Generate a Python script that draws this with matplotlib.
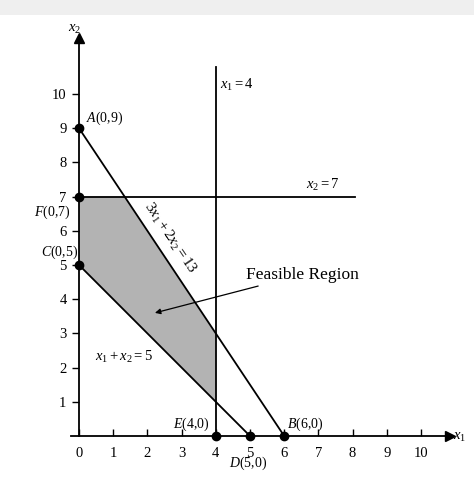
import matplotlib.pyplot as plt
from matplotlib.patches import Polygon, Rectangle

plt.rcParams['font.family'] = ['Liberation Serif', 'DejaVu Serif']
plt.rcParams['mathtext.fontset'] = 'custom'
plt.rcParams['mathtext.rm'] = 'Liberation Serif'
plt.rcParams['mathtext.it'] = 'Liberation Serif:italic'

# corner points of the feasible region
region_x = [0, 4 / 3, 4, 4, 0]
region_y = [7, 7, 3, 1, 5]

# labelled points
pt_names = ['A(0,9)', 'F(0,7)', 'C(0,5)', 'E(4,0)', 'D(5,0)', 'B(6,0)']
pt_x = [0, 0, 0, 4, 5, 6]
pt_y = [9, 7, 5, 0, 0, 0]

# constraint lines
line_a_x = [0, 6]
line_a_y = [9, 0]
line_c_x = [0, 5]
line_c_y = [5, 0]
x1_eq4_x = [4, 4]
x1_eq4_y = [0, 10.8]
x2_eq7_x = [0, 8.07]
x2_eq7_y = [7, 7]

xticks = [0, 1, 2, 3, 4, 5, 6, 7, 8, 9, 10]
yticks = [1, 2, 3, 4, 5, 6, 7, 8, 9, 10]

fig = plt.figure(figsize=(4.74, 4.83), dpi=100)
ax = fig.add_axes([0, 0, 1, 1])
ax.set_xlim(-79 / 34.2, (474 - 79) / 34.2)
ax.set_ylim(-(483 - 436) / 34.2, 436 / 34.2)

fig.patches.append(Rectangle((0, 1 - 15 / 483), 1, 15 / 483, transform=fig.transFigure,
                             facecolor='#efefef', edgecolor='none'))

ax.add_patch(Polygon(list(zip(region_x, region_y)), closed=True, facecolor='#b3b3b3',
                     edgecolor='none'))

lw = 1.3
ax.plot(line_a_x, line_a_y, color='black', lw=lw)
ax.plot(line_c_x, line_c_y, color='black', lw=lw)
ax.plot(x1_eq4_x, x1_eq4_y, color='black', lw=lw)
ax.plot(x2_eq7_x, x2_eq7_y, color='black', lw=lw)

for s in ['top', 'right']:
    ax.spines[s].set_visible(False)
ax.spines['left'].set_position(('data', 0))
ax.spines['bottom'].set_position(('data', 0))
ax.spines['left'].set_bounds(0, 11.5)
ax.spines['bottom'].set_bounds(-0.23, 10.7)
ax.spines['left'].set_linewidth(lw)
ax.spines['bottom'].set_linewidth(lw)
ax.plot([10.85], [0], marker='>', color='black', markersize=7, clip_on=False)
ax.plot([0], [11.65], marker='^', color='black', markersize=7, clip_on=False)

ax.set_xticks(xticks)
ax.set_xticklabels([str(t) for t in xticks])
ax.set_yticks(yticks)
ax.set_yticklabels([str(t) for t in yticks])
ax.tick_params(axis='x', direction='in', length=5, width=1, pad=8, labelsize=10.5)
ax.tick_params(axis='y', direction='out', length=5, width=1, pad=4, labelsize=10.5)

ax.scatter(pt_x, pt_y, s=36, color='black', zorder=5, clip_on=False)

fs = 10
ax.text(0.2, 9.3, r'$A$(0,9)', fontsize=fs, ha='left', va='center')
ax.text(-0.26, 6.55, r'$F$(0,7)', fontsize=fs, ha='right', va='center')
ax.text(-0.03, 5.38, r'$C$(0,5)', fontsize=fs, ha='right', va='center')
ax.text(3.83, 0.35, r'$E$(4,0)', fontsize=fs, ha='right', va='center')
ax.text(4.95, -0.8, r'$D$(5,0)', fontsize=fs, ha='center', va='center')
ax.text(6.08, 0.35, r'$B$(6,0)', fontsize=fs, ha='left', va='center')

ax.text(4.12, 10.25, r'$x_1 = 4$', fontsize=10.5, ha='left', va='center')
ax.text(6.65, 7.35, r'$x_2 = 7$', fontsize=10.5, ha='left', va='center')
ax.text(0.47, 2.3, r'$x_1 + x_2 = 5$', fontsize=10.5, ha='left', va='center')
ax.text(2.66, 5.8, r'$3x_1 + 2x_2 = 13$', fontsize=11, ha='center', va='center',
        rotation=-56, rotation_mode='anchor')
ax.text(-0.12, 11.9, r'$x_2$', fontsize=10.5, ha='center', va='center')
ax.text(10.95, -0.05, r'$x_1$', fontsize=10.5, ha='left', va='center')

ax.annotate('Feasible Region', xy=(2.22, 3.6), xytext=(4.88, 4.72), fontsize=12.5,
            ha='left', va='center',
            arrowprops=dict(arrowstyle='-|>', color='black', lw=0.9, shrinkA=2, shrinkB=0,
                            mutation_scale=8))

fig.savefig('out.png', dpi=100)
